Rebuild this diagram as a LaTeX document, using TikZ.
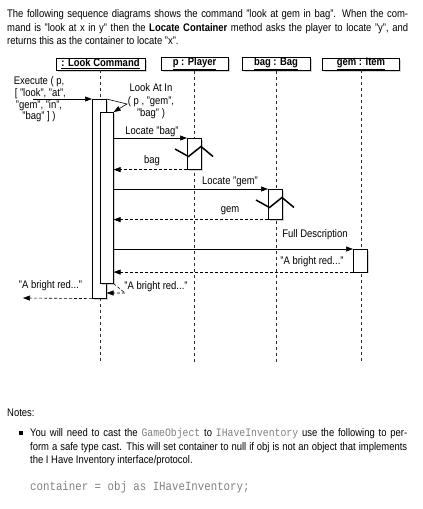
\documentclass[tikz,border=0pt]{standalone}
\usepackage{fontspec}
\setmainfont{Liberation Sans}[FakeStretch=0.86]
\setmonofont{Liberation Mono}[FakeStretch=0.86]
\usepackage{tikz}
\usetikzlibrary{positioning}
\usetikzlibrary{arrows.meta}
\usetikzlibrary{shadows}

\definecolor{codegray}{RGB}{128,128,128}
\definecolor{dashgray}{RGB}{45,45,45}

\newcommand{\callmark}[1]{\draw[zig] ([shift={(-12,11)}]#1.north west) -- ([shift={(1.5,18.5)}]#1.north west) -- ([shift={(14,8.5)}]#1.north west) -- ([shift={(26,18.5)}]#1.north west);}

\begin{document}
\begin{tikzpicture}[x=1pt,y=-1pt,
        font=\fontsize{11}{13.5}\selectfont,
        shade/.style={drop shadow={shadow xshift=1.5pt,shadow yshift=-1.5pt,opacity=0.35}},
        head/.style={draw=black,fill=white,line width=0.8pt,minimum height=12pt,inner sep=0pt,shade,font=\fontsize{11}{11}\selectfont\bfseries},
        act/.style={draw=black,fill=white,line width=0.6pt,minimum width=14pt,anchor=north west,inner sep=0pt,shade},
        life/.style={draw=dashgray,dash pattern=on 3pt off 3pt,line width=0.7pt},
        msg/.style={-{Triangle[length=7pt,width=5pt]},line width=0.6pt},
        ret/.style={msg,dash pattern=on 3pt off 2pt},
        zig/.style={line width=1.5pt},
        lbl/.style={inner sep=0pt,align=center,font=\fontsize{11}{11.7}\selectfont}]
    \useasboundingbox (0,0) rectangle (423,509);

    \node[anchor=base west,inner sep=0pt,text width=401pt,align=justify] (intro) at (7,17.5)
        {The following sequence diagrams shows the command "look at gem in bag". When the com-\linebreak mand is "look at x in y" then the \textbf{Locate Container} method asks the player to locate "y", and\linebreak returns this as the container to locate "x".};

    % objects and lifelines
    \node[head,minimum width=89pt] (cmd) at (100.5,64) {\underline{: Look Command}};
    \node[head,minimum width=67pt] (plr) at (194.5,64) {\underline{p : Player}};
    \node[head,minimum width=68pt] (bag) at (276,64) {\underline{bag : Bag}};
    \node[head,minimum width=77pt] (gem) at (361,64) {\underline{gem : Item}};
    \coordinate (bottom) at (0,362);
    \foreach \n in {cmd,plr,bag,gem}
        \draw[life] (\n.south) -- (\n.south |- bottom);

    \node[act,minimum height=199pt] (cmdA) at (92,99) {};
    \node[act,minimum width=13pt,minimum height=171pt] (cmdB) at (100,112) {};
    \node[act,minimum height=31pt] (plrA) at (187,138) {};
    \node[act,minimum height=30pt] (bagA) at (268,189) {};
    \node[act,minimum height=22.5pt] (gemA) at (353,249) {};
    \callmark{plrA}
    \callmark{bagA}

    % messages
    \coordinate (exStart) at (33,99);
    \draw[msg] (exStart) -- (cmdA.north west);
    \node[lbl] (exLbl) at (39,99.5) {Execute ( p,\\{} [ "look", "at",\\ "gem", "in",\\ "bag" ] )};

    \coordinate (lookTurn) at (127,104);
    \draw[msg] (cmdA.north east) -- (lookTurn) -- (cmdB.north east);
    \node[lbl,font=\fontsize{11}{12.5}\selectfont] (lookLbl) at (151,101.5) {Look At In\\( p , "gem",\\ "bag" )};

    \draw[msg] (cmdB.east |- plrA.north) -- (plrA.north west);
    \node[lbl] (locBag) at (152,131.5) {Locate "bag"};
    \draw[ret] (plrA.south west) -- (cmdB.east |- plrA.south);
    \node[lbl] (retBag) at (152,160.5) {bag};

    \draw[msg] (cmdB.east |- bagA.north) -- (bagA.north west);
    \node[lbl] (locGem) at (230,181.5) {Locate "gem"};
    \draw[ret] (bagA.south west) -- (cmdB.east |- bagA.south);
    \node[lbl] (retGem) at (230,210.5) {gem};

    \draw[msg] (cmdB.east |- gemA.north) -- (gemA.north west);
    \node[lbl] (fullDesc) at (315,235) {Full Description};
    \draw[ret] (gemA.south west) -- (cmdB.east |- gemA.south);
    \node[lbl] (retDesc) at (312,261.5) {"A bright red..."};

    \coordinate (selfTurn) at (125,293);
    \draw[ret] (cmdB.south east) -- (selfTurn) -- (selfTurn -| cmdA.east);
    \node[lbl] (selfLbl) at (156,286.5) {"A bright red..."};

    \coordinate (finEnd) at (23,298);
    \draw[ret] (cmdA.south west) -- (finEnd);
    \node[lbl] (finLbl) at (50.5,285.7) {"A bright red..."};

    % notes
    \node[anchor=base west,inner sep=0pt] (notes) at (7,416.5) {Notes:};
    \fill (18.5,430.5) rectangle (22.5,434.5);
    \node[anchor=base west,inner sep=0pt,text width=377pt,align=justify] (note1) at (30,436.5)
        {You will need to cast the {\color{codegray}\ttfamily\fontsize{11.4}{13.5}\selectfont GameObject} to {\color{codegray}\ttfamily\fontsize{11.4}{13.5}\selectfont IHaveInventory} use the following to per-\linebreak form a safe type cast. This will set container to null if obj is not an object that implements\linebreak the I Have Inventory interface/protocol.};
    \node[anchor=base west,inner sep=0pt,text=codegray,font=\ttfamily\fontsize{12.5}{13}\selectfont] (code) at (30,490)
        {container = obj as IHaveInventory;};
\end{tikzpicture}
\end{document}
